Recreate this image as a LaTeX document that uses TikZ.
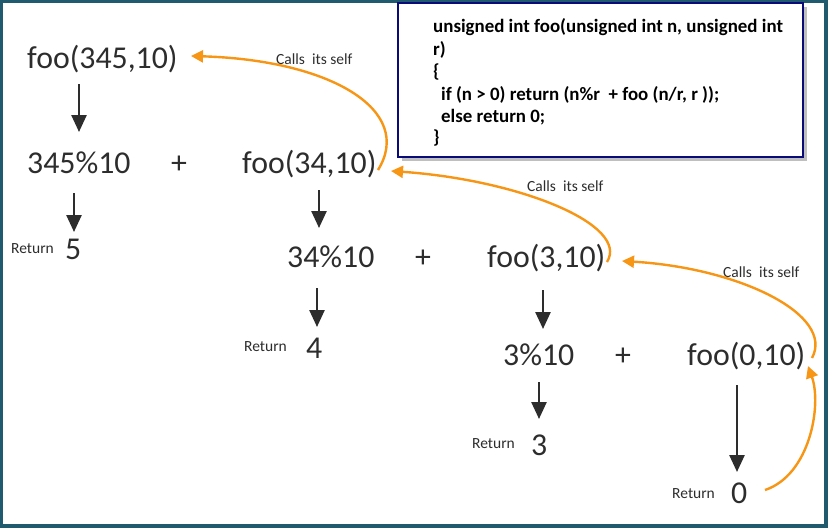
\documentclass[tikz,border=0pt]{standalone}
\usepackage{fontspec}
\setmainfont{Carlito}
\usetikzlibrary{arrows.meta}
\definecolor{frameteal}{RGB}{31,90,110}
\definecolor{codenavy}{RGB}{10,10,120}
\definecolor{callorange}{RGB}{247,150,20}
\definecolor{txtgray}{RGB}{45,45,45}
\begin{document}
\begin{tikzpicture}[x=1pt,y=-1pt,
  big/.style={anchor=base west,inner sep=0pt,text=txtgray,font=\fontsize{31.8}{31.8}\selectfont},
  small/.style={anchor=base west,inner sep=0pt,text=txtgray,font=\fontsize{15.5}{15.5}\selectfont},
  codeline/.style={anchor=base west,inner sep=0pt,text=black,font=\bfseries\fontsize{18.9}{18.9}\selectfont},
  downarrow/.style={draw=txtgray,line width=2.5pt,-{Triangle[length=17pt,width=15pt]}},
  callarrow/.style={draw=callorange,line width=2.4pt,-{Triangle[length=12pt,width=12pt]}}]
% frame
\fill[frameteal] (0,0) rectangle (828,528);
\fill[white] (3,3) rectangle (824,524);
\useasboundingbox (0,0) rectangle (828,528);
% code box
\fill[black!25] (402,7) rectangle (807,161);
\filldraw[fill=white,draw=codenavy,line width=2pt] (398,3) rectangle (803,157);
\node[codeline] (c1) at (433,32) {unsigned int foo(unsigned int n, unsigned int};
\node[codeline] (c2) at (433,55) {r)};
\node[codeline] (c3) at (433,77) {\{};
\node[codeline] (c4) at (441,100) {if (n > 0) return (n\%r \ + foo (n/r, r ));};
\node[codeline] (c5) at (441,122) {else return 0;};
\node[codeline] (c6) at (433,143) {\}};
% level 1
\node[big] (f1) at (27,68) {foo(345,10)};
\node[big] (m1) at (27,173) {345\%10};
\node[big] (p1) at (171,173) {+};
\node[big] (f2) at (242,173) {foo(34,10)};
\node[small] (r1) at (11,253) {Return};
\node[big] (v1) at (65,259) {5};
% level 2
\node[big] (m2) at (287,267) {34\%10};
\node[big] (p2) at (415,267) {+};
\node[big] (f3) at (487,267) {foo(3,10)};
\node[small] (r2) at (244,351) {Return};
\node[big] (v2) at (306,358) {4};
% level 3
\node[big] (m3) at (503,365) {3\%10};
\node[big] (p3) at (615,365) {+};
\node[big] (f4) at (687,365) {foo(0,10)};
\node[small] (r3) at (472,448) {Return};
\node[big] (v3) at (531,455) {3};
% level 4
\node[small] (r4) at (672,498) {Return};
\node[big] (v4) at (731,503) {0};
% labels
\node[small] (l1) at (276,64) {Calls \ its self};
\node[small] (l2) at (527,191) {Calls \ its self};
\node[small] (l3) at (723,277) {Calls \ its self};
% black arrow end points
\coordinate (a1s) at (79,84);  \coordinate (a1e) at (79,132);
\coordinate (a2s) at (74,193); \coordinate (a2e) at (74,232);
\coordinate (a3s) at (319,190); \coordinate (a3e) at (319,228);
\coordinate (a4s) at (317,288); \coordinate (a4e) at (317,327);
\coordinate (a5s) at (543,290); \coordinate (a5e) at (543,329);
\coordinate (a6s) at (539,382); \coordinate (a6e) at (539,419);
\coordinate (a7s) at (737,385); \coordinate (a7e) at (737,472);
\foreach \i in {1,...,7} {\draw[downarrow] (a\i s) -- (a\i e);}
% orange call arrows
\coordinate (o1s) at (378,170); \coordinate (o1e) at (191,56);
\coordinate (o2s) at (607,262); \coordinate (o2e) at (391,171);
\coordinate (o3s) at (812,358); \coordinate (o3e) at (622,261);
\coordinate (o4s) at (765,490); \coordinate (o4e) at (808,366);
\draw[callarrow] (o1s) .. controls (415,110) and (330,60) .. (o1e);
\draw[callarrow] (o2s) .. controls (630,225) and (520,180) .. (o2e);
\draw[callarrow] (o3s) .. controls (835,315) and (740,268) .. (o3e);
\draw[callarrow] (o4s) .. controls (810,475) and (822,405) .. (o4e);
\end{tikzpicture}
\end{document}
